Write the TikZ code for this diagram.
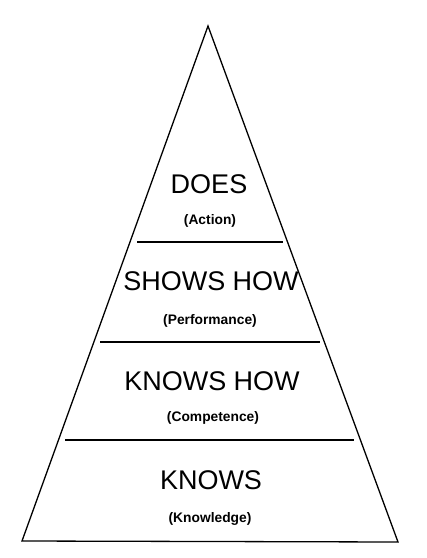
\documentclass[tikz,border=0pt]{standalone}
\usepackage{fontspec}
\setmainfont{Liberation Sans}
\begin{document}
\begin{tikzpicture}[x=1pt,y=-1pt,
  edge/.style={line width=1.3pt,line join=miter},
  tier/.style={font=\fontsize{27}{30}\selectfont,anchor=center,inner sep=0pt},
  sub/.style={font=\bfseries\fontsize{13.8}{16}\selectfont,anchor=center,inner sep=0pt}]
\useasboundingbox (0,0) rectangle (427,558);
\coordinate (apex) at (208,26);
\coordinate (bl) at (22,541);
\coordinate (br) at (398,542);
\draw[edge] (bl) -- (apex) -- (br) -- cycle;
\coordinate (l1a) at (137,242); \coordinate (l1b) at (283,242);
\coordinate (l2a) at (100,342); \coordinate (l2b) at (320,342);
\coordinate (l3a) at (65,440); \coordinate (l3b) at (354,440);
\draw[edge] (l1a) -- (l1b);
\draw[edge] (l2a) -- (l2b);
\draw[edge] (l3a) -- (l3b);
\node[tier] (does) at (209,184) {DOES};
\node[sub] (action) at (210,221) {(Action)};
\node[tier] (shows) at (211,281) {SHOWS HOW};
\node[sub] (perf) at (210,321) {(Performance)};
\node[tier] (knowshow) at (212,381) {KNOWS HOW};
\node[sub] (comp) at (213,418) {(Competence)};
\node[tier] (knows) at (211,480) {KNOWS};
\node[sub] (know) at (210,519) {(Knowledge)};
\end{tikzpicture}
\end{document}
